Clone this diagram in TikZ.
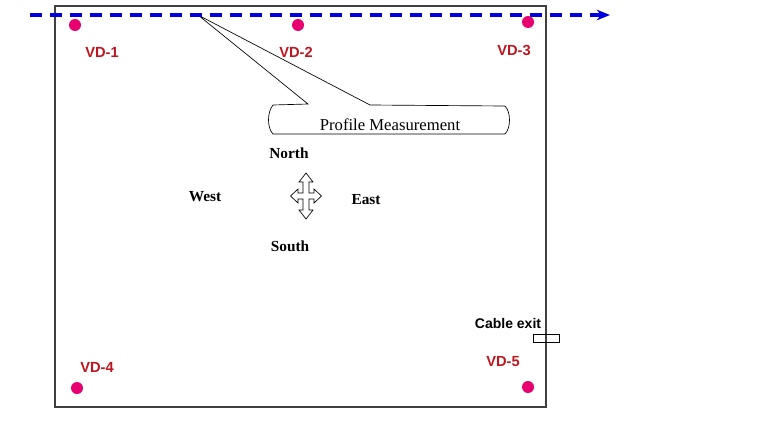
\documentclass[tikz,border=0pt]{standalone}
\usepackage{fontspec}
\setmainfont{Liberation Serif}
\setsansfont{Liberation Sans}
\usetikzlibrary{arrows.meta}
\definecolor{vdpink}{RGB}{232,0,112}
\definecolor{vdred}{RGB}{190,22,30}
\definecolor{pathblue}{RGB}{0,0,225}
\tikzset{
  vddot/.style={fill=vdpink,draw=none,circle,inner sep=0pt,minimum size=9pt},
  vdlabel/.style={text=vdred,font=\sffamily\bfseries\fontsize{11}{12}\selectfont},
  dirlabel/.style={font=\bfseries\fontsize{11.5}{13}\selectfont}
}
\begin{document}
\begin{tikzpicture}[x=0.75pt,y=-0.75pt]
\useasboundingbox (0,0) rectangle (780,443);
\draw[line width=0.9pt,black!75] (55,6) rectangle (546,407);
\node[vddot] (d1) at (75,25) {};
\node[vddot] (d2) at (298,25) {};
\node[vddot] (d3) at (528,22) {};
\node[vddot] (d4) at (77,388) {};
\node[vddot] (d5) at (528,387) {};
\node[vdlabel] (l1) at (102,52) {VD-1};
\node[vdlabel] (l2) at (296,52) {VD-2};
\node[vdlabel] (l3) at (514,50) {VD-3};
\node[vdlabel] (l4) at (97,367) {VD-4};
\node[vdlabel] (l5) at (503,362) {VD-5};
\coordinate (tip) at (198,15);
\draw[line width=0.5pt] (308,104) -- (tip) -- (370,105) -- (505,106)
  .. controls (511,112) and (511,128) .. (505,134) -- (273,134)
  .. controls (267,128) and (267,112) .. (273,105) -- cycle;
\node[font=\fontsize{12.5}{14}\selectfont] (prof) at (390,125) {Profile Measurement};
\coordinate (pstart) at (30,15);
\coordinate (pend) at (610,15);
\draw[pathblue,line width=2.6pt,dash pattern=on 9pt off 6pt,-{Stealth[length=10pt,width=8pt]}] (pstart) -- (pend);
\node[dirlabel] (north) at (289,153) {North};
\node[dirlabel] (west) at (205,197) {West};
\node[dirlabel] (east) at (366,200) {East};
\node[dirlabel] (south) at (290,246) {South};
\begin{scope}[shift={(306,196)},x=0.75pt,y=0.75pt]
\draw[line width=0.5pt] (0,23) -- (7,14) -- (3,14) -- (3,3) -- (8,3) -- (8,7) -- (15.5,0)
  -- (8,-7) -- (8,-3) -- (3,-3) -- (3,-14) -- (7,-14) -- (0,-23) -- (-7,-14)
  -- (-3,-14) -- (-3,-3) -- (-8,-3) -- (-8,-7) -- (-15.5,0) -- (-8,7) -- (-8,3)
  -- (-3,3) -- (-3,14) -- (-7,14) -- cycle;
\end{scope}
\node[font=\sffamily\bfseries\fontsize{10.5}{12}\selectfont] (cable) at (508,323) {Cable exit};
\draw[line width=0.6pt] (533,334) rectangle (559,342);
\end{tikzpicture}
\end{document}
